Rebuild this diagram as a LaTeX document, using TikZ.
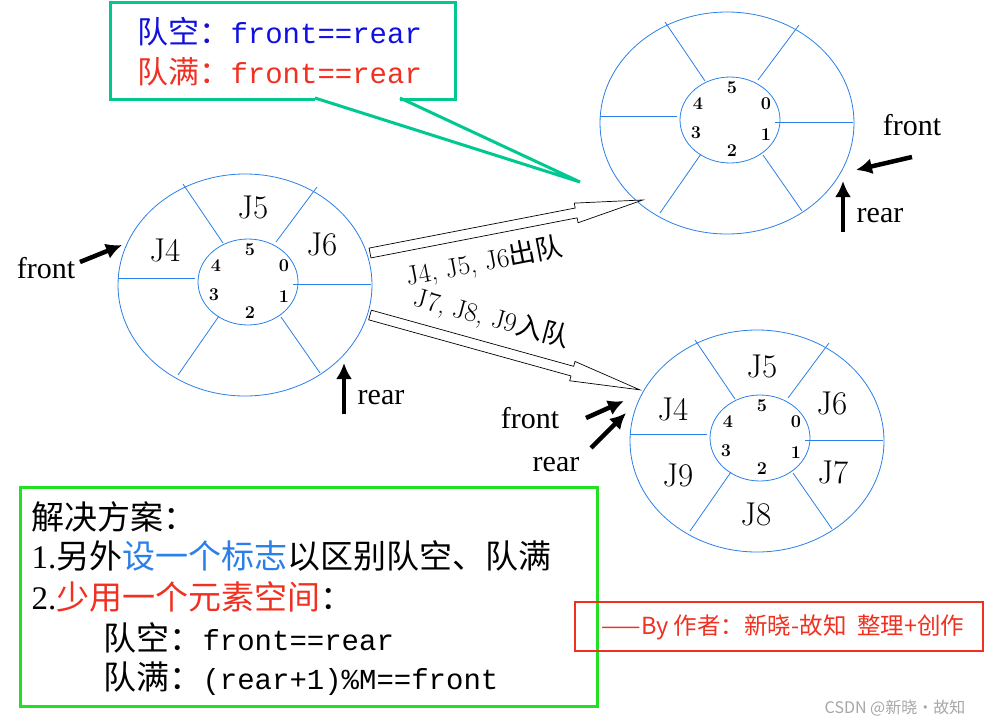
\documentclass[tikz,border=0pt]{standalone}
\usepackage{fontspec}
\setmainfont{Liberation Serif}
\newfontfamily\cjk{Noto Sans CJK SC}
\newfontfamily\lm{Latin Modern Roman}
\newfontfamily\mono{Liberation Mono}
\usetikzlibrary{shapes.geometric,arrows.meta}
\definecolor{ringc}{HTML}{2B7FE8}
\definecolor{teal}{HTML}{00C890}
\definecolor{gbox}{HTML}{22E022}
\definecolor{cred}{HTML}{F03020}
\definecolor{cblue}{HTML}{1010E0}
\tikzset{
 rl/.style={draw=ringc,line width=0.8pt},
 jl/.style={font=\lm\fontsize{33}{33}\selectfont},
 nl/.style={font=\lm\bfseries\fontsize{18}{18}\selectfont},
 pl/.style={font=\fontsize{30}{30}\selectfont},
 parrow/.style={-{Latex[length=16pt,width=16pt]},line width=4.5pt},
 ring/.pic={
  \draw[rl] (0,0) ellipse[x radius=127,y radius=111];
  \draw[rl] (3,-3) ellipse[x radius=50,y radius=43];
  \draw[rl] (-127,-7)--(-50,-7); \draw[rl] (48,-1)--(126,-1);
  \draw[rl] (-62,-101)--(-22,-42); \draw[rl] (72,-98)--(31,-43);
  \draw[rl] (-67,90)--(-26,31); \draw[rl] (75,88)--(36,32);
  \node[nl] at (5,-35){5}; \node[nl] at (-29,-19){4}; \node[nl] at (39,-19){0};
  \node[nl] at (-31,10){3}; \node[nl] at (39,12){1}; \node[nl] at (5,28){2};
 }
}
\begin{document}
\begin{tikzpicture}[x=1pt,y=-1pt]
\useasboundingbox (0,0) rectangle (987,726);
\pic at (245,285) {ring};
\pic at (727,123) {ring};
\pic at (757,441) {ring};
\node[jl] (a5) at (253,207){J5}; \node[jl] (a4) at (165,250){J4}; \node[jl] (a6) at (322,244){J6};
\node[jl] (c5) at (762,366){J5}; \node[jl] (c4) at (673,409){J4}; \node[jl] (c6) at (832,403){J6};
\node[jl] (c9) at (678,475){J9}; \node[jl] (c7) at (833,472){J7}; \node[jl] (c8) at (756,514){J8};
% pointers
\node[pl] (f1) at (46,268){front}; \coordinate (f1t) at (122,245);
\draw[parrow] (80,262)--(f1t);
\node[pl] (r1) at (381,398){rear}; \coordinate (r1t) at (344,363);
\draw[parrow] (344,414)--(r1t);
\node[pl] (f2) at (912,125){front}; \coordinate (f2t) at (856,170);
\draw[parrow] (912,157)--(f2t);
\node[pl] (r2) at (880,216){rear}; \coordinate (r2t) at (843,181);
\draw[parrow] (843,232)--(r2t);
\node[pl] (f3) at (530,418){front}; \coordinate (f3t) at (624,401);
\draw[parrow] (586,418)--(f3t);
\node[pl] (r3) at (556,465){rear}; \coordinate (r3t) at (626,413);
\draw[parrow] (591,448)--(r3t);
% hollow arrows
\begin{scope}[shift={(370,253)},rotate=11]
 \draw[fill=white,line width=0.7pt] (0,-5)--(210,-5)--(210,-10)--(278,0)--(210,10)--(210,5)--(0,5)--cycle;
\end{scope}
\begin{scope}[shift={(370,315)},rotate=-15.5]
 \draw[fill=white,line width=0.7pt] (0,-5)--(210,-5)--(210,-10)--(280,0)--(210,10)--(210,5)--(0,5)--cycle;
\end{scope}
\node[font=\lm\fontsize{27}{27}\selectfont,rotate=11] (l1) at (484,262){J4, J5, J6\cjk 出队};
\node[font=\lm\fontsize{27}{27}\selectfont,rotate=-15] (l2) at (492,318){J7, J8, J9\cjk 入队};
% callout
\fill[white] (315,98)--(580,182)--(400,98)--cycle;
\draw[teal,line width=3pt] (315,98)--(580,182)--(400,98);
\draw[teal,line width=3pt] (315,99)--(110,99)--(110,2)--(455,2)--(455,99)--(400,99);
\node[anchor=west,text=cblue,font=\mono\fontsize{29}{29}\selectfont] (q1) at (134,32){{\cjk\fontsize{31}{31}\selectfont 队空：}front==rear};
\node[anchor=west,text=cred,font=\mono\fontsize{29}{29}\selectfont] (q2) at (134,72){{\cjk\fontsize{31}{31}\selectfont 队满：}front==rear};
% solution box
\draw[gbox,line width=3pt] (20,487) rectangle (597,706);
\begin{scope}[every node/.style={anchor=west,font=\cjk\fontsize{33}{33}\selectfont}]
\node (s1) at (28,517){解决方案：};
\node (s2) at (28,556){{\rmfamily 1.}另外{\color{ringc}设一个标志}以区别队空、队满};
\node (s3) at (28,597){{\rmfamily 2.}{\color{cred}少用一个元素空间}：};
\node (s4) at (100,638){队空：{\mono\fontsize{29}{29}\selectfont front==rear}};
\node (s5) at (100,679){队满：{\mono\fontsize{29}{29}\selectfont (rear+1)\%M==front}};
\end{scope}
% credit
\draw[cred,line width=1.5pt] (575,602) rectangle (983,651);
\node[text=cred,font=\cjk\fontsize{23.5}{24}\selectfont] (cr) at (783,627){——By 作者：新晓-故知\ \ 整理+创作};
\node[text=gray!70,font=\cjk\fontsize{16}{16}\selectfont] (wm) at (895,708){CSDN @新晓·故知};
\end{tikzpicture}
\end{document}
